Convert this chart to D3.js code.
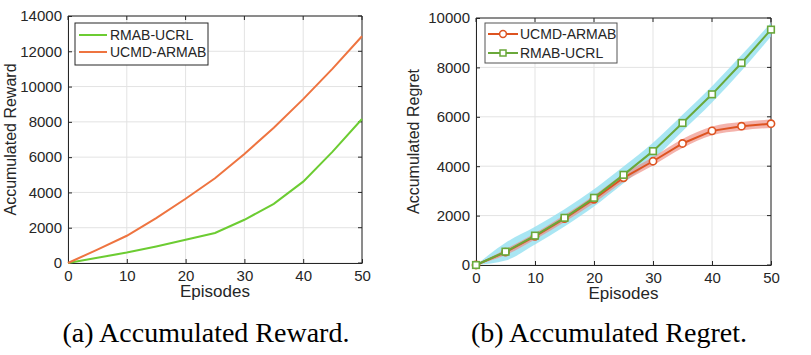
<!DOCTYPE html>
<html>
<head>
<meta charset="utf-8">
<script src="https://cdn.jsdelivr.net/npm/d3@7"></script>
<style>
  body { margin: 0; background: #fff; }
  text { font-family: "Liberation Sans", Arial, sans-serif; fill: #262626; }
  .cap { font-family: "Liberation Serif", "Times New Roman", serif; fill: #000; }
</style>
</head>
<body>
<svg id="chart" width="811" height="355"></svg>
<script>
// Episodes on the x axis
const episodes = [0, 5, 10, 15, 20, 25, 30, 35, 40, 45, 50];

// (a) accumulated reward
const rewardUcrl = [0, 300, 590, 940, 1320, 1700, 2450, 3350, 4610, 6310, 8160];
const rewardUcmd = [0, 760, 1545, 2540, 3640, 4800, 6180, 7670, 9290, 11020, 12850];

// (b) accumulated regret, means and band half-widths
const regretUcmd = [0, 520, 1160, 1880, 2660, 3530, 4200, 4920, 5430, 5620, 5720];
const regretUcmdBand = [0, 120, 130, 140, 150, 160, 170, 180, 180, 170, 170];
const regretUcrl = [0, 540, 1190, 1910, 2720, 3650, 4610, 5750, 6910, 8180, 9530];
const regretUcrlBand = [0, 360, 360, 350, 350, 340, 340, 330, 330, 320, 280];

const xTicks = [0, 10, 20, 30, 40, 50];
const rewardTicks = [0, 2000, 4000, 6000, 8000, 10000, 12000, 14000];
const regretTicks = [0, 2000, 4000, 6000, 8000, 10000];

const svg = d3.select("#chart");

function drawPanel(opt) {
  const g = svg.append("g");
  const x = d3.scaleLinear().domain([0, 50]).range([opt.left, opt.right]);
  const y = d3.scaleLinear().domain([0, opt.ymax]).range([opt.bottom, opt.top]);

  // grid
  g.selectAll(".gx").data(xTicks).enter().append("line")
    .attr("x1", d => x(d)).attr("x2", d => x(d))
    .attr("y1", opt.top).attr("y2", opt.bottom)
    .attr("stroke", "#e3e3e3").attr("stroke-width", 1);
  g.selectAll(".gy").data(opt.yTicks).enter().append("line")
    .attr("x1", opt.left).attr("x2", opt.right)
    .attr("y1", d => y(d)).attr("y2", d => y(d))
    .attr("stroke", "#e3e3e3").attr("stroke-width", 1);

  // axes
  const xAxis = d3.axisBottom(x).tickValues(xTicks).tickFormat(d3.format("d"))
    .tickSizeInner(-4).tickSizeOuter(0).tickPadding(7);
  const yAxis = d3.axisLeft(y).tickValues(opt.yTicks).tickFormat(d3.format("d"))
    .tickSizeInner(-4).tickSizeOuter(0).tickPadding(6);
  const gx = g.append("g").attr("transform", `translate(0,${opt.bottom})`).call(xAxis);
  const gy = g.append("g").attr("transform", `translate(${opt.left},0)`).call(yAxis);
  [gx, gy].forEach(a => {
    a.selectAll("path, line").attr("stroke", "#262626");
    a.selectAll("text").style("font-size", "15px").attr("fill", "#262626");
  });
  // box top and right
  g.append("line").attr("x1", opt.left).attr("x2", opt.right).attr("y1", opt.top).attr("y2", opt.top)
    .attr("stroke", "#262626");
  g.append("line").attr("x1", opt.right).attr("x2", opt.right).attr("y1", opt.top).attr("y2", opt.bottom)
    .attr("stroke", "#262626");
  gy.selectAll(".tick").each(function(d) {
    g.append("line").attr("x1", opt.right - 4).attr("x2", opt.right)
      .attr("y1", y(d)).attr("y2", y(d)).attr("stroke", "#262626");
  });
  gx.selectAll(".tick").each(function(d) {
    g.append("line").attr("x1", x(d)).attr("x2", x(d))
      .attr("y1", opt.top).attr("y2", opt.top + 4).attr("stroke", "#262626");
  });

  // titles
  g.append("text").attr("x", (opt.left + opt.right) / 2).attr("y", opt.bottom + 34)
    .attr("text-anchor", "middle").style("font-size", "17px").text("Episodes");
  g.append("text").attr("transform", `translate(${opt.left - opt.yOff},${(opt.top + opt.bottom) / 2}) rotate(-90)`)
    .attr("text-anchor", "middle").style("font-size", "16px").text(opt.ylabel);

  return { g, x, y };
}

// ---- panel (a)
const a = drawPanel({ left: 68, right: 362, top: 16, bottom: 263, ymax: 14000,
  yTicks: rewardTicks, ylabel: "Accumulated Reward", yOff: 52 });
const lineA = d3.line().x((d, i) => a.x(episodes[i])).y(d => a.y(d));
a.g.append("path").datum(rewardUcrl).attr("d", lineA).attr("fill", "none")
  .attr("stroke", "#6ccc32").attr("stroke-width", 2);
a.g.append("path").datum(rewardUcmd).attr("d", lineA).attr("fill", "none")
  .attr("stroke", "#ee7440").attr("stroke-width", 2);

// legend (a)
const legA = a.g.append("g");
legA.append("rect").attr("x", 75).attr("y", 23).attr("width", 133).attr("height", 42)
  .attr("fill", "#fff").attr("stroke", "#262626");
[["RMAB-UCRL", "#6ccc32"], ["UCMD-ARMAB", "#ee7440"]].forEach((s, i) => {
  const yy = 35 + i * 17;
  legA.append("line").attr("x1", 79).attr("x2", 107).attr("y1", yy).attr("y2", yy)
    .attr("stroke", s[1]).attr("stroke-width", 2);
  legA.append("text").attr("x", 110).attr("y", yy + 5).style("font-size", "14px").text(s[0]);
});

// ---- panel (b)
const b = drawPanel({ left: 476, right: 771, top: 18, bottom: 265, ymax: 10000,
  yTicks: regretTicks, ylabel: "Accumulated Regret", yOff: 57 });
const area = (m, w) => d3.area().x((d, i) => b.x(episodes[i]))
  .y0((d, i) => b.y(m[i] - w[i])).y1((d, i) => b.y(m[i] + w[i])).curve(d3.curveMonotoneX);
const lineB = d3.line().x((d, i) => b.x(episodes[i])).y(d => b.y(d));

b.g.append("path").datum(regretUcrl).attr("d", area(regretUcrl, regretUcrlBand))
  .attr("fill", "#94e0f0").attr("fill-opacity", 0.8);
b.g.append("path").datum(regretUcmd).attr("d", area(regretUcmd, regretUcmdBand))
  .attr("fill", "#ee8a80").attr("fill-opacity", 0.65);

b.g.append("path").datum(regretUcmd).attr("d", lineB).attr("fill", "none")
  .attr("stroke", "#dd5320").attr("stroke-width", 2);
b.g.selectAll(".c").data(regretUcmd).enter().append("circle")
  .attr("cx", (d, i) => b.x(episodes[i])).attr("cy", d => b.y(d)).attr("r", 3.6)
  .attr("fill", "#fff").attr("stroke", "#dd5320").attr("stroke-width", 1.6);

b.g.append("path").datum(regretUcrl).attr("d", lineB).attr("fill", "none")
  .attr("stroke", "#6aa83a").attr("stroke-width", 2);
b.g.selectAll(".s").data(regretUcrl).enter().append("rect")
  .attr("x", (d, i) => b.x(episodes[i]) - 3.3).attr("y", d => b.y(d) - 3.3)
  .attr("width", 6.6).attr("height", 6.6)
  .attr("fill", "#fff").attr("stroke", "#6aa83a").attr("stroke-width", 1.6);

// legend (b)
const legB = b.g.append("g");
legB.append("rect").attr("x", 485).attr("y", 23).attr("width", 132).attr("height", 40)
  .attr("fill", "#fff").attr("stroke", "#555");
[["UCMD-ARMAB", "#dd5320", "c"], ["RMAB-UCRL", "#6aa83a", "s"]].forEach((s, i) => {
  const yy = 34 + i * 19;
  legB.append("line").attr("x1", 488).attr("x2", 518).attr("y1", yy).attr("y2", yy)
    .attr("stroke", s[1]).attr("stroke-width", 2);
  if (s[2] === "c") {
    legB.append("circle").attr("cx", 503).attr("cy", yy).attr("r", 3.4)
      .attr("fill", "#fff").attr("stroke", s[1]).attr("stroke-width", 1.5);
  } else {
    legB.append("rect").attr("x", 500).attr("y", yy - 3).attr("width", 6).attr("height", 6)
      .attr("fill", "#fff").attr("stroke", s[1]).attr("stroke-width", 1.5);
  }
  legB.append("text").attr("x", 520).attr("y", yy + 5).style("font-size", "14px").text(s[0]);
});

// captions
svg.append("text").attr("class", "cap").attr("x", 206).attr("y", 342)
  .attr("text-anchor", "middle").style("font-size", "28px").text("(a) Accumulated Reward.");
svg.append("text").attr("class", "cap").attr("x", 609).attr("y", 342)
  .attr("text-anchor", "middle").style("font-size", "28px").text("(b) Accumulated Regret.");
</script>
</body>
</html>
